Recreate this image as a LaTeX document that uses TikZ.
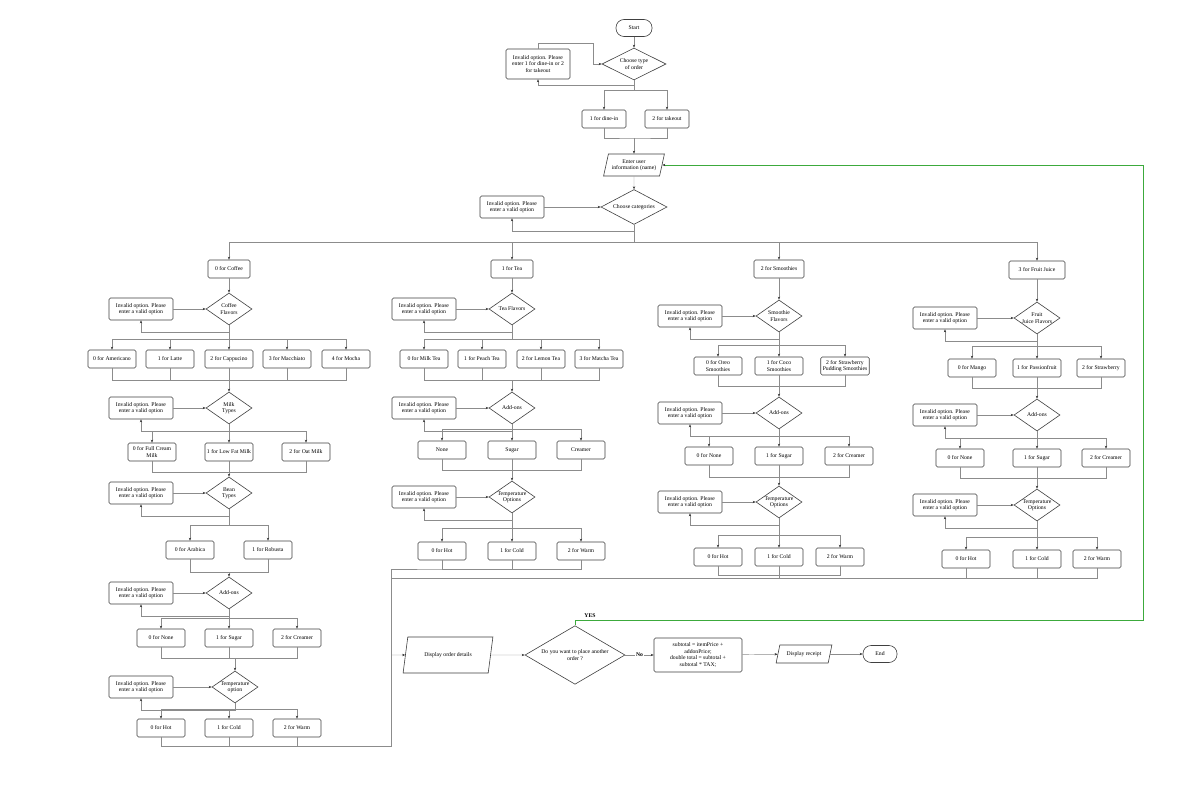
\documentclass[tikz,border=0pt]{standalone}
\usepackage{fontspec}
\setmainfont{Liberation Serif}
\usetikzlibrary{shapes.geometric,arrows.meta}
\newcommand\fs{\fontsize{5.7}{6.5}\selectfont}
\tikzset{
 ln/.style={draw=black!45,line width=.45pt},
 arr/.style={ln,-{Stealth[length=3pt,width=2.4pt,black!80]}},
 box/.style={draw=black!75,line width=.6pt,rounded corners=1.5pt,align=center,font=\fs,inner sep=2pt,fill=white},
 opt/.style={box,minimum width=48,minimum height=18},
 inv/.style={box,minimum width=64,minimum height=22},
 dia/.style={diamond,draw=black!75,line width=.6pt,align=center,font=\fs,inner sep=0pt,aspect=1.4,minimum width=46,minimum height=32,fill=white},
 para/.style={trapezium,trapezium left angle=75,trapezium right angle=105,trapezium stretches=true,draw=black!75,line width=.6pt,align=center,font=\fs,fill=white},
 pill/.style={draw=black!75,line width=.6pt,rounded corners=8pt,minimum width=36,minimum height=17,font=\fs,fill=white}
}
\newcommand\dblk[5]{%
 \node[dia] (#1) at (#2,#3) {#4};
 \node[inv] (#1i) at (#5,#3) {Invalid option. Please\\enter a valid option};
 \draw[arr] (#1i) -- (#1);
 \draw[arr] (#1.south) -- ++(0,7) -| (#1i.south);
}
\newcommand\optrow[6]{%
 \draw[ln] (#1.south) -- (#1.south |- 0,#2);
 \foreach \x/\t [count=\i] in {#6} {
  \node[opt] (#1o\i) at (\x,#3) {\t};
  \draw[arr] (#1.south |- 0,#2) -| (#1o\i.north);
  \draw[ln] (#1o\i.south) -- (\x,#4) -- (#5.north |- 0,#4);
 }
}
\begin{document}
\begin{tikzpicture}[x=1pt,y=-1pt]
\fill[white] (0,0) rectangle (1200,800);
\useasboundingbox (0,0) rectangle (1200,800);
% top
\node[pill] (start) at (634,28) {Start};
\node[dia,minimum width=64,minimum height=32] (d0) at (634,64) {Choose type\\of order};
\node[inv,minimum height=30] (inv0) at (538,64) {Invalid option. Please\\enter 1 for dine-in or 2\\for takeout};
\draw[arr] (start) -- (d0);
\draw[arr] (inv0.north) |- (593,43) |- (d0.west);
\draw[arr] (d0.south) -- ++(0,5) -| (inv0.south);
\node[opt,minimum width=44] (dine) at (604,119) {1 for dine-in};
\node[opt,minimum width=44] (take) at (667,119) {2 for takeout};
\node[para,minimum width=60,minimum height=22] (user) at (634,165) {Enter user\\information (name)};
\draw[ln] (d0.south) -- (d0.south |- 0,90);
\draw[arr] (d0.south |- 0,90) -| (dine.north);
\draw[arr] (d0.south |- 0,90) -| (take.north);
\draw[ln] (dine.south) |- (user.north |- 0,138) -| (take.south);
\draw[arr] (user.north |- 0,138) -- (user.north);
\node[dia,minimum width=66,minimum height=32] (cat) at (634,207) {Choose categories};
\node[inv] (cati) at (512,207) {Invalid option. Please\\enter a valid option};
\draw[arr] (user) -- (cat);
\draw[arr] (cati) -- (cat);
\draw[arr] (cat.south) -- ++(0,6) -| (cati.south);
\node[opt,minimum width=42] (cof) at (229,269) {0 for Coffee};
\node[opt,minimum width=42] (tea) at (512,269) {1 for Tea};
\node[opt,minimum width=50] (smo) at (779,269) {2 for Smoothies};
\node[opt,minimum width=56] (fru) at (1037,270) {3 for Fruit Juice};
\draw[ln] (cat.south) -- (cat.south |- 0,242);
\foreach \n in {cof,tea,smo,fru} \draw[arr] (cat.south |- 0,242) -| (\n.north);
% coffee
\dblk{cf}{229}{309}{Coffee\\Flavors}{141}
\dblk{cm}{229}{408}{Milk\\Types}{141}
\dblk{cb}{229}{493}{Bean\\Types}{141}
\dblk{ca}{229}{593}{Add-ons}{141}
\dblk{ct}{235}{687}{Temperature\\option}{141}
\draw[arr] (cof) -- (cf);
\optrow{cf}{339}{359}{380}{cm}{112/0 for Americano,170/1 for Latte,229/2 for Cappucino,287/3 for Macchiato,346/4 for Mocha}
\draw[arr] (cm.north |- 0,380) -- (cm.north);
\optrow{cm}{431}{452}{472}{cb}{152/{0 for Full Cream\\Milk},229/1 for Low Fat Milk,306/2 for Oat Milk}
\draw[arr] (cb.north |- 0,472) -- (cb.north);
\optrow{cb}{525}{550}{572}{ca}{190/0 for Arabica,268/1 for Robusta}
\draw[arr] (ca.north |- 0,572) -- (ca.north);
\optrow{ca}{618}{638}{658}{ct}{161/0 for None,229/1 for Sugar,297/2 for Creamer}
\draw[arr] (ct.north |- 0,658) -- (ct.north);
\optrow{ct}{709}{728}{746}{ct}{161/0 for Hot,229/1 for Cold,297/2 for Warm}
% tea
\dblk{tf}{512}{309}{Tea Flavors}{424}
\dblk{ta}{512}{408}{Add-ons}{424}
\dblk{tt}{512}{497}{Temperature\\Options}{424}
\draw[arr] (tea) -- (tf);
\optrow{tf}{339}{359}{380}{ta}{424/0 for Milk Tea,482/1 for Peach Tea,541/2 for Lemon Tea,599/3 for Matcha Tea}
\draw[arr] (ta.north |- 0,380) -- (ta.north);
\optrow{ta}{429}{450}{470}{tt}{442/None,512/Sugar,581/Creamer}
\draw[arr] (tt.north |- 0,470) -- (tt.north);
\optrow{tt}{528}{551}{569}{tt}{442/0 for Hot,512/1 for Cold,581/2 for Warm}
% smoothies
\dblk{sf}{779}{316}{Smoothie\\Flavors}{690}
\dblk{sa}{779}{413}{Add-ons}{690}
\dblk{st}{779}{502}{Temperature\\Options}{690}
\draw[arr] (smo) -- (sf);
\optrow{sf}{345}{366}{386}{sa}{718/{0 for Oreo\\Smoothies},779/{1 for Coco\\Smoothies},845/{2 for Strawberry\\Pudding Smoothies}}
\draw[arr] (sa.north |- 0,386) -- (sa.north);
\optrow{sa}{436}{456}{477}{st}{709/0 for None,779/1 for Sugar,849/2 for Creamer}
\draw[arr] (st.north |- 0,477) -- (st.north);
\optrow{st}{535}{557}{575}{st}{718/0 for Hot,779/1 for Cold,840/2 for Warm}
% fruit
\dblk{ff}{1037}{318}{Fruit\\Juice Flavors}{945}
\dblk{fa}{1037}{415}{Add-ons}{945}
\dblk{ft}{1037}{505}{Temperature\\Options}{945}
\draw[arr] (fru) -- (ff);
\optrow{ff}{346}{368}{388}{fa}{972/0 for Mango,1037/1 for Passionfruit,1101/2 for Strawberry}
\draw[arr] (fa.north |- 0,388) -- (fa.north);
\optrow{fa}{438}{458}{478}{ft}{960/0 for None,1037/1 for Sugar,1106/2 for Creamer}
\draw[arr] (ft.north |- 0,478) -- (ft.north);
\optrow{ft}{537}{559}{578}{ft}{966/0 for Hot,1037/1 for Cold,1097/2 for Warm}
% bottom
\node[para,minimum width=90,minimum height=36] (disp) at (448,655) {Display order details};
\node[dia,minimum width=100,minimum height=50] (again) at (575,655) {Do you want to place another\\order ?};
\node[box,minimum width=88,minimum height=34,inner sep=1pt] (calc) at (698,655) {subtotal = itemPrice +\\addonPrice;\\double total = subtotal +\\subtotal * TAX;};
\node[para,minimum width=56,minimum height=18] (rec) at (804,654) {Display receipt};
\node[pill,minimum width=34] (end) at (880,654) {End};
\coordinate (bus) at (391,655);
\draw[ln] (cto3.south |- 0,746) -| (bus);
\draw[ln] (tto3.south |- 0,569) -- (tto1.south |- 0,569) -| (bus);
\draw[ln] (st.north |- 0,575) -- (st.north |- 0,578);
\draw[ln] (fto3.south |- 0,578) -| (bus);
\draw[arr] (bus) -- (disp);
\draw[arr] (disp) -- (again);
\draw[arr] (again) -- node[font=\fs\bfseries,fill=white,inner sep=1pt]{No} (calc);
\draw[arr] (calc) -- (rec);
\draw[arr] (rec) -- (end);
\draw[arr,draw={rgb,255:red,60;green,170;blue,60}] (again.north) |- (1143,620) |- (user.east);
\node[font=\fs\bfseries,anchor=south] (yes) at (590,621) {YES};
\end{tikzpicture}
\end{document}
